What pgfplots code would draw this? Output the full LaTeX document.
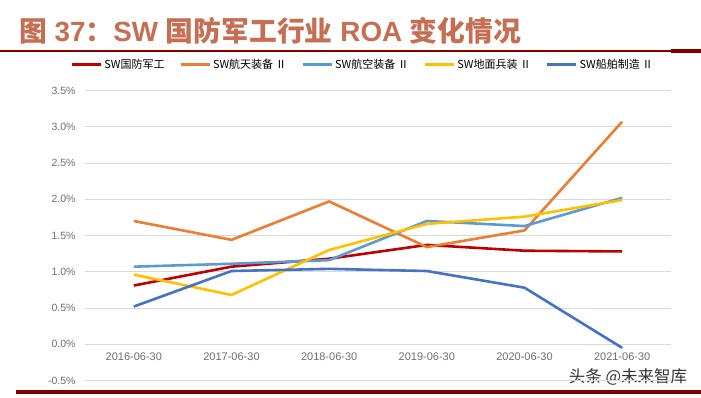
\documentclass[border=0pt]{standalone}
\usepackage{fontspec}
\usepackage{pgfplots}
\pgfplotsset{compat=1.18}
\setmainfont{Liberation Sans}
\newfontfamily\cjk{Noto Sans CJK SC}
\definecolor{titlecol}{RGB}{199,109,82}
\definecolor{rulecol}{RGB}{128,0,0}
\definecolor{sred}{RGB}{192,0,0}
\definecolor{sorange}{RGB}{237,125,49}
\definecolor{slblue}{RGB}{91,155,213}
\definecolor{syellow}{RGB}{255,192,0}
\definecolor{sdblue}{RGB}{68,114,196}
\definecolor{gridcol}{RGB}{217,217,217}
\definecolor{ticklab}{RGB}{110,110,110}
\begin{document}
\begin{tikzpicture}[x=1pt,y=1pt]
\path[use as bounding box] (0,0) rectangle (701,398);
% title and rules
\node[anchor=base west, text=titlecol, inner sep=0pt, font=\fontsize{27.8}{28}\selectfont\bfseries] at (19,356) {{\cjk 图} 37{\cjk ：}SW {\cjk 国防军工行业} ROA {\cjk 变化情况}};
\fill[rulecol] (0,346) rectangle (671,348);
\fill[rulecol] (671,345) rectangle (701,348.5);
\fill[rulecol] (16,3.5) rectangle (701,7.5);
\node[anchor=center, text=black!80, font=\cjk\fontsize{16.5}{17}\selectfont] at (628,21) {头条 @未来智库};
\begin{axis}[
  at={(85pt,17.5pt)}, anchor=south west,
  scale only axis, width=586pt, height=290pt,
  xmin=-0.5, xmax=5.5, ymin=-0.5, ymax=3.5,
  axis line style={draw=none},
  major tick length=0pt,
  ymajorgrids, grid style={draw=gridcol, line width=0.8pt},
  ytick={-0.5,0,0.5,1,1.5,2,2.5,3,3.5},
  yticklabel={\pgfmathprintnumber[fixed,fixed zerofill,precision=1]{\tick}\%},
  /pgf/number format/assume math mode=true,
  yticklabel style={font=\fontsize{10.5}{12}\selectfont, text=ticklab, xshift=-6pt},
  xtick={0,1,2,3,4,5},
  xticklabels={2016-06-30,2017-06-30,2018-06-30,2019-06-30,2020-06-30,2021-06-30},
  xticklabel style={font=\fontsize{11}{12}\selectfont, text=ticklab, anchor=center, yshift=23.5pt},
  legend columns=5,
  legend style={at={(0.474,1.088)}, anchor=center, draw=none, fill=none,
    font=\cjk\fontsize{11}{12}\selectfont,
    /tikz/every even column/.append style={column sep=12.5pt},
    inner sep=0pt},
  legend image code/.code={\draw[#1, line width=3pt] (0pt,0pt) -- (29pt,0pt);},
  every axis plot/.append style={line width=2.6pt, line join=round},
]
\addplot[sred, mark=none] coordinates {(0,0.81) (1,1.07) (2,1.18) (3,1.37) (4,1.29) (5,1.28)};
\addlegendentry{SW国防军工}
\addplot[sorange, mark=none] coordinates {(0,1.70) (1,1.44) (2,1.97) (3,1.34) (4,1.57) (5,3.07)};
\addlegendentry{SW航天装备 Ⅱ}
\addplot[slblue, mark=none] coordinates {(0,1.07) (1,1.11) (2,1.16) (3,1.70) (4,1.63) (5,2.02)};
\addlegendentry{SW航空装备 Ⅱ}
\addplot[syellow, mark=none] coordinates {(0,0.96) (1,0.68) (2,1.30) (3,1.66) (4,1.76) (5,1.99)};
\addlegendentry{SW地面兵装 Ⅱ}
\addplot[sdblue, mark=none] coordinates {(0,0.52) (1,1.01) (2,1.04) (3,1.01) (4,0.78) (5,-0.05)};
\addlegendentry{SW船舶制造 Ⅱ}
\end{axis}
\end{tikzpicture}
\end{document}
